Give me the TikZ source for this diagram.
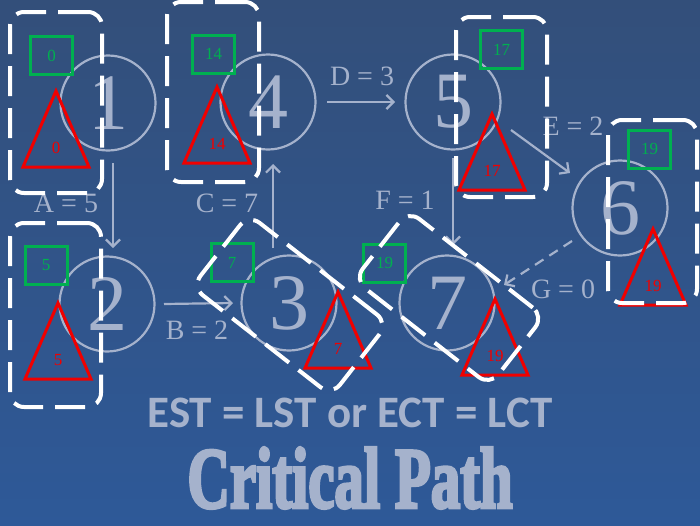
\documentclass[tikz,border=0pt]{standalone}
\usepackage{fontspec}
\setmainfont{Liberation Serif}
\newfontfamily\sansf{Carlito}
\newfontfamily\heavyf[FakeBold=4]{Liberation Serif Bold}
\usetikzlibrary{arrows.meta}
\definecolor{bgtop}{RGB}{51,79,122}
\definecolor{bgbot}{RGB}{46,89,152}
\definecolor{pale}{RGB}{165,178,204}
\definecolor{grn}{RGB}{0,176,80}
\definecolor{rd}{RGB}{240,0,0}
\newcommand\redtri[4]{%
  \draw[rtri] (#2,#3) -- ++(-33,76) -- ++(66,0) -- cycle;
  \node[rtext] (#1) at (#2,{#3+57}) {#4};}
\begin{document}
\begin{tikzpicture}[x=1pt,y=-1pt,
  circ/.style={circle, draw=pale, line width=2.2pt, minimum size=95pt, inner sep=0pt, text=pale, font=\fontsize{80}{80}\selectfont},
  arr/.style={draw=pale, line width=2.2pt, -{Straight Barb[length=7pt,width=14pt]}},
  lbl/.style={text=pale, font=\fontsize{28}{28}\selectfont, inner sep=0pt},
  gbox/.style={draw=grn, line width=3pt, minimum width=42pt, minimum height=38pt, inner sep=0pt, text=grn, font=\fontsize{17}{17}\selectfont},
  rtri/.style={draw=rd, line width=3pt},
  rtext/.style={text=rd, inner sep=0pt, font=\fontsize{17}{17}\selectfont},
  crit/.style={draw=white, line width=4pt, dash pattern=on 30pt off 12pt, rounded corners=14pt, inner sep=0pt}]
\useasboundingbox (0,0) rectangle (700,525);
\shade[top color=bgtop, bottom color=bgbot] (0,0) rectangle (700,525);
% event circles
\node[circ] (c1) at (108,103) {1};
\node[circ] (c4) at (268,102) {4};
\node[circ] (c5) at (453,102) {5};
\node[circ] (c6) at (620,208) {6};
\node[circ] (c2) at (107,304) {2};
\node[circ] (c3) at (289,303) {3};
\node[circ] (c7) at (447,303) {7};
% activities
\draw[arr] ([shift={(5,60)}]c1.center) -- ([shift={(6,-56)}]c2.center);
\draw[arr] ([shift={(57,0)}]c2.center) -- ([shift={(-56,0)}]c3.center);
\draw[arr] ([shift={(-16,-55)}]c3.center) -- ([shift={(5,62)}]c4.center);
\draw[arr] ([shift={(59,0)}]c4.center) -- ([shift={(-58,0)}]c5.center);
\draw[arr] ([shift={(58,28)}]c5.center) -- ([shift={(-50,-35)}]c6.center);
\draw[arr] ([shift={(0,56)}]c5.center) -- ([shift={(6,-58)}]c7.center);
\draw[arr, dash pattern=on 10pt off 7pt] ([shift={(-48,33)}]c6.center) -- ([shift={(57,-18)}]c7.center);
\node[lbl] (la) at (66,203) {A = 5};
\node[lbl] (lc) at (227,203) {C = 7};
\node[lbl] (lb) at (197,330) {B = 2};
\node[lbl] (ld) at (362,76) {D = 3};
\node[lbl] (le) at (573,126) {E = 2};
\node[lbl] (lf) at (405,200) {F = 1};
\node[lbl] (lg) at (563,289) {G = 0};
% earliest times
\node[gbox] (g1) at (51.5,55.5) {0};
\node[gbox] (g4) at (213.5,54) {14};
\node[gbox] (g5) at (501.5,49.5) {17};
\node[gbox] (g6) at (649.5,149) {19};
\node[gbox] (g2) at (46,265.5) {5};
\node[gbox] (g3) at (232,262.5) {7};
\node[gbox] (g7) at (384.5,263) {19};
% latest times
\redtri{r1}{56}{91}{0}
\redtri{r4}{217}{87}{14}
\redtri{r5}{492}{114}{17}
\redtri{r6}{653}{229}{19}
\redtri{r2}{58}{303}{5}
\redtri{r3}{338}{292}{7}
\redtri{r7}{495}{299}{19}
% critical frames
\node[crit, minimum width=92pt, minimum height=181pt] (k1) at (56,102.5) {};
\node[crit, minimum width=92pt, minimum height=180pt] (k4) at (213,92) {};
\node[crit, minimum width=91pt, minimum height=180pt] (k5) at (501.5,107) {};
\node[crit, minimum width=89pt, minimum height=183pt] (k6) at (652.5,211.5) {};
\node[crit, minimum width=91pt, minimum height=184pt] (k2) at (55.5,315) {};
\node[crit, minimum width=177pt, minimum height=92pt, rotate=-38] (k3) at (290,305) {};
\node[crit, minimum width=172pt, minimum height=88pt, rotate=-38] (k7) at (449,298) {};
% captions
\node[text=pale, inner sep=0pt] (rule) at (350,413) {\resizebox{405pt}{!}{\sansf\bfseries EST = LST or ECT = LCT}};
\node[text=pale, inner sep=0pt] (title) at (350,478) {\resizebox{325pt}{60pt}{\heavyf Critical Path}};
\end{tikzpicture}
\end{document}
